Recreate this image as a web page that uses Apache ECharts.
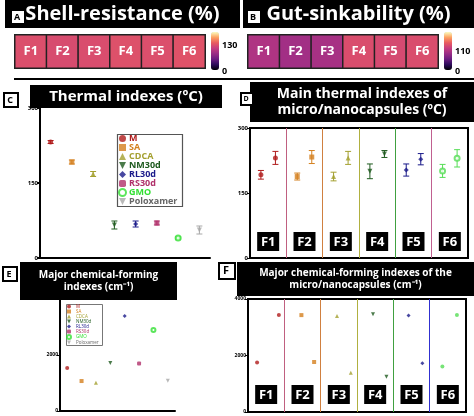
<!DOCTYPE html>
<html><head><meta charset="utf-8">
<script src="https://cdn.jsdelivr.net/npm/echarts@6/dist/echarts.min.js"></script>
<style>html,body{margin:0;padding:0;background:#fff}#c{width:474px;height:416px}</style>
</head><body><div id="c"></div>
<script>
const formulations = ['F1','F2','F3','F4','F5','F6'];
const shellResistance = [86, 84, 85, 87, 86, 88];
const gutSinkability = [55, 50, 52, 72, 70, 72];
const materials = ['M','SA','CDCA','NM30d','RL30d','RS30d','GMO','Poloxamer'];
const thermalC = [232, 192, 168, 66, 68, 70, 40, 56];
const thermalCErr = [3, 4, 5, 8, 6, 4, 2, 8];
const thermalDLow = [192, 188, 188, 200, 203, 201];
const thermalDHigh = [231, 233, 231, 240, 228, 230];
const thermalDLowErr = [10, 8, 10, 17, 14, 15];
const thermalDHighErr = [15, 15, 15, 8, 13, 20];
const chemE = [1540, 1070, 1010, 1710, 3390, 1700, 2890, 1080];
const chemFLow = [1750, 1770, 1390, 1250, 1730, 1610];
const chemFHigh = [3430, 3430, 3400, 3460, 3420, 3430];

const colors = ['#b01c1c','#d4801e','#a4a030','#1e5a1e','#1a1a8a','#b0306a','#33e033','#a8a8a8'];
const symbols = ['circle','rect','triangle','path://M0,0L10,0L5,10Z','diamond','roundRect','emptyCircle','path://M0,0L10,0L5,10Z'];
const fColors = [colors[0],colors[1],colors[2],colors[3],colors[4],'#55dd55'];
const sepD = ['#c06080','#d08040','#b0b040','#40a040','#c06090'];
const sepF = ['#c06080','#d08040','#b0b040','#40a040','#3030d0'];

const heatColors = ['#000004','#2c0b5a','#6a1c80','#9a2c86','#c43c80','#e85a60','#fca060','#fcfdbf'];
function heat(vals){return vals.map((v,i)=>[i,0,v]);}
const ax = {lineStyle:{color:'#000',width:2}};
const lbl = {fontSize:6,fontWeight:'bold',color:'#000',margin:2};

function errSeries(vals, errs, gi, cols, off){
  return {type:'custom', xAxisIndex:gi, yAxisIndex:gi, z:1,
    data: vals.map((v,i)=>[i+(off||0), v, errs[i], i]),
    renderItem:(p,api)=>{
      const xv=api.value(0), v=api.value(1), e=api.value(2), idx=api.value(3);
      const t=api.coord([xv,v+e]), b=api.coord([xv,v-e]);
      const c=cols[idx];
      return {type:'group',children:[
        {type:'line',shape:{x1:t[0],y1:t[1],x2:b[0],y2:b[1]},style:{stroke:c,lineWidth:1}},
        {type:'line',shape:{x1:t[0]-3,y1:t[1],x2:t[0]+3,y2:t[1]},style:{stroke:c,lineWidth:1}},
        {type:'line',shape:{x1:b[0]-3,y1:b[1],x2:b[0]+3,y2:b[1]},style:{stroke:c,lineWidth:1}}]};
    }};
}

const grids=[
 {left:15,top:35,width:190,height:33},
 {left:248,top:35,width:190,height:33},
 {left:40,top:108,width:170,height:150},
 {left:250,top:128,width:218,height:130,show:true,borderColor:'#000',borderWidth:2},
 {left:60,top:299,width:115,height:112},
 {left:248,top:299,width:218,height:113,show:true,borderColor:'#000',borderWidth:2}
];
const xAxes=[
 {gridIndex:0,type:'category',data:formulations,show:false},
 {gridIndex:1,type:'category',data:formulations,show:false},
 {gridIndex:2,type:'category',data:materials,axisLine:ax,axisTick:{show:false},axisLabel:{show:false}},
 {gridIndex:3,type:'value',min:0,max:6,show:false},
 {gridIndex:4,type:'category',data:materials,axisLine:ax,axisTick:{show:false},axisLabel:{show:false}},
 {gridIndex:5,type:'value',min:0,max:6,show:false}
];
const plain=v=>String(v);
const yAxes=[
 {gridIndex:0,type:'category',data:[''],show:false},
 {gridIndex:1,type:'category',data:[''],show:false},
 {gridIndex:2,type:'value',min:0,max:300,interval:150,splitLine:{show:false},axisLine:{show:true,...ax},axisTick:{show:true,length:3,lineStyle:{width:2}},axisLabel:lbl},
 {gridIndex:3,type:'value',min:0,max:300,interval:150,splitLine:{show:false},axisLine:{show:true,...ax},axisTick:{show:true,length:3},axisLabel:lbl},
 {gridIndex:4,type:'value',min:0,max:4000,interval:2000,splitLine:{show:false},axisLine:{show:true,...ax},axisTick:{show:true,length:3},axisLabel:{...lbl,fontSize:5,formatter:plain}},
 {gridIndex:5,type:'value',min:0,max:4000,interval:2000,splitLine:{show:false},axisLine:{show:true,...ax},axisTick:{show:true,length:3},axisLabel:{...lbl,fontSize:5,formatter:plain}}
];
const cellLabel={show:true,formatter:p=>formulations[p.value[0]],color:'#fff',fontSize:13,fontWeight:'bold',fontFamily:'Open Sans'};
const series=[
 {type:'heatmap',xAxisIndex:0,yAxisIndex:0,data:heat(shellResistance),label:cellLabel,itemStyle:{borderColor:'#222',borderWidth:1.5}},
 {type:'heatmap',xAxisIndex:1,yAxisIndex:1,data:heat(gutSinkability),label:cellLabel,itemStyle:{borderColor:'#222',borderWidth:1.5}}
];
materials.forEach((m,i)=>{
  const d=materials.map((_,j)=>j===i?thermalC[i]:null);
  series.push({type:'scatter',name:m,xAxisIndex:2,yAxisIndex:2,data:d,symbol:symbols[i],symbolSize:5,itemStyle:{color:colors[i]},z:3});
});
series.push(errSeries(thermalC,thermalCErr,2,colors,0));
materials.forEach((m,i)=>{
  const d=materials.map((_,j)=>j===i?chemE[i]:null);
  series.push({type:'scatter',name:m+' ',xAxisIndex:4,yAxisIndex:4,data:d,symbol:symbols[i],symbolSize:4,itemStyle:{color:colors[i]}});
});
const dLowOff=0.3, dHighOff=0.7;
series.push({type:'scatter',xAxisIndex:3,yAxisIndex:3,symbolSize:5,z:3,
  data:thermalDLow.map((v,i)=>({value:[i+dLowOff,v],symbol:symbols[i===5?6:i],itemStyle:{color:fColors[i]}})),
  markLine:{silent:true,symbol:'none',label:{show:false},data:sepD.map((c,i)=>({xAxis:i+1,lineStyle:{color:c,type:'solid',width:1}}))}});
series.push({type:'scatter',xAxisIndex:3,yAxisIndex:3,symbolSize:5,z:3,
  data:thermalDHigh.map((v,i)=>({value:[i+dHighOff,v],symbol:symbols[i===5?6:i],itemStyle:{color:fColors[i]}}))});
series.push(errSeries(thermalDLow,thermalDLowErr,3,fColors,dLowOff));
series.push(errSeries(thermalDHigh,thermalDHighErr,3,fColors,dHighOff));
const fLowOff=[0.25,0.82,0.83,0.81,0.8,0.35], fHighOff=[0.85,0.47,0.45,0.44,0.42,0.75];
series.push({type:'scatter',xAxisIndex:5,yAxisIndex:5,symbolSize:4,
  data:chemFLow.map((v,i)=>({value:[i+fLowOff[i],v],symbol:symbols[i===5?0:i],itemStyle:{color:fColors[i]}})),
  markLine:{silent:true,symbol:'none',label:{show:false},data:sepF.map((c,i)=>({xAxis:i+1,lineStyle:{color:c,type:'solid',width:1}}))}});
series.push({type:'scatter',xAxisIndex:5,yAxisIndex:5,symbolSize:4,
  data:chemFHigh.map((v,i)=>({value:[i+fHighOff[i],v],symbol:symbols[i===5?0:i],itemStyle:{color:fColors[i]}}))});

const T='Open Sans';
function bar(x,y,w,h,lines,fs){
  return [{type:'rect',left:x,top:y,shape:{width:w,height:h},style:{fill:'#000'}},
   {type:'text',x:x+w/2,y:y+h/2,style:{text:lines,fill:'#fff',font:'bold '+fs+'px "'+T+'"',align:'center',verticalAlign:'middle',lineHeight:fs*1.15}}];
}
function tag(x,y,t,s){
  return [{type:'rect',left:x,top:y,shape:{width:s,height:s},style:{fill:'#fff',stroke:'#000',lineWidth:2}},
   {type:'text',x:x+s/2,y:y+s/2+1,style:{text:t,fill:'#000',font:'bold '+(s-5)+'px "'+T+'"',align:'center',verticalAlign:'middle'}}];
}
function fBoxes(gx,gw,y){
  const els=[];const w=gw/6;
  formulations.forEach((f,i)=>{
    const cx=gx+w*i+w/2;
    els.push({type:'rect',left:cx-11,top:y,shape:{width:22,height:19},style:{fill:'#000'}});
    els.push({type:'text',x:cx,y:y+10,style:{text:f,fill:'#fff',font:'bold 13px "'+T+'"',align:'center',verticalAlign:'middle'}});
  });
  return els;
}
const graphic=[].concat(
  bar(5,0,235,28,'Shell-resistance (%)',20), tag(10,9,'A',14),
  bar(243,0,231,28,'Gut-sinkability (%)',20), tag(246,9,'B',14),
  [{type:'text',x:222,y:45,style:{text:'130',font:'bold 9px "'+T+'"',fill:'#000',verticalAlign:'middle'}},
   {type:'text',x:222,y:71,style:{text:'0',font:'bold 9px "'+T+'"',fill:'#000',verticalAlign:'middle'}},
   {type:'text',x:455,y:51,style:{text:'110',font:'bold 9px "'+T+'"',fill:'#000',verticalAlign:'middle'}},
   {type:'text',x:455,y:71,style:{text:'0',font:'bold 9px "'+T+'"',fill:'#000',verticalAlign:'middle'}},
   {type:'line',shape:{x1:14,y1:79,x2:474,y2:79},style:{stroke:'#000',lineWidth:2}}],
  bar(30,85,192,23,'Thermal indexes (ºC)',15), tag(3,92,'C',14),
  bar(250,82,224,40,'Main thermal indexes of\nmicro/nanocapsules (ºC)',14), tag(240,92,'D',12),
  bar(20,262,157,38,'Major chemical-forming\nindexes (cm⁻¹)',10), tag(2,266,'E',14),
  bar(237,262,237,34,'Major chemical-forming indexes of the\nmicro/nanocapsules (cm⁻¹)',10), tag(218,262,'F',16),
  fBoxes(250,218,232), fBoxes(248,218,385),
  [{type:'rect',left:115,top:132,shape:{width:65,height:72},style:{fill:'none',stroke:'#555',lineWidth:1.2}},
   {type:'rect',left:64,top:302,shape:{width:36,height:41},style:{fill:'none',stroke:'#777',lineWidth:1}}]
);
const vmBase={type:'continuous',calculable:false,showLabel:false,text:['',''],itemWidth:8,inRange:{color:heatColors},orient:'vertical',padding:0};
const chart=echarts.init(document.getElementById('c'));
chart.setOption({
  animation:false,
  textStyle:{fontFamily:T},
  grid:grids,xAxis:xAxes,yAxis:yAxes,series:series,graphic:graphic,
  visualMap:[
   {...vmBase,seriesIndex:0,min:0,max:130,left:211,top:32,itemHeight:38},
   {...vmBase,seriesIndex:1,min:0,max:110,left:444,top:32,itemHeight:38}
  ],
  legend:[
   {left:118,top:134,orient:'vertical',itemGap:0,itemWidth:7,itemHeight:7,
    data:materials.map((m,i)=>({name:m,textStyle:{color:i===7?'#666':colors[i]}})),
    textStyle:{fontSize:9,fontWeight:'bold',padding:[0,0,0,-2]},padding:0},
   {left:66,top:304,orient:'vertical',itemGap:0,itemWidth:4,itemHeight:4,
    data:materials.map((m,i)=>({name:m+' ',textStyle:{color:i===7?'#666':colors[i]}})),
    textStyle:{fontSize:4.5,padding:0},padding:0}
  ]
});
</script></body></html>
